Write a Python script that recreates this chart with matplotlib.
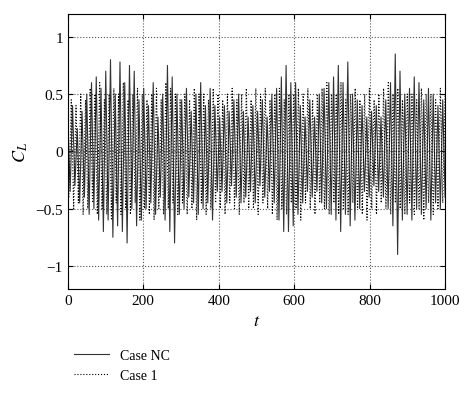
import numpy as np
import matplotlib
matplotlib.use("Agg")
import matplotlib.pyplot as plt

plt.rcParams['font.family'] = ['Liberation Serif', 'DejaVu Serif']
plt.rcParams['mathtext.fontset'] = 'stix'

nc_values = [0.3,-0.35,0.4,-0.3,0.2,-0.45,0.35,-0.4,0.5,-0.55,0.6,-0.5,0.65,-0.6,0.55,-0.7,
 0.7,-0.6,0.8,-0.75,0.5,-0.65,0.78,-0.7,0.6,-0.8,0.75,-0.5,0.7,-0.65,0.45,-0.6,
 0.55,-0.5,0.4,-0.45,0.6,-0.55,0.3,-0.4,0.5,-0.6,0.75,-0.7,0.65,-0.8,0.5,-0.55,
 0.45,-0.5,0.55,-0.4,0.35,-0.45,0.5,-0.55,0.6,-0.5,0.4,-0.45,0.55,-0.6,0.4,-0.35,
 0.3,-0.35,0.4,-0.45,0.35,-0.3,0.45,-0.4,0.5,-0.45,0.35,-0.4,0.3,-0.35,0.4,-0.45,
 0.35,-0.3,0.45,-0.4,0.3,-0.35,0.5,-0.45,0.55,-0.6,0.65,-0.7,0.75,-0.7,0.6,-0.65,
 0.6,-0.55,0.4,-0.45,0.3,-0.35,0.45,-0.4,0.3,-0.35,0.5,-0.45,0.55,-0.5,0.6,-0.55,
 0.65,-0.6,0.75,-0.7,0.6,-0.55,0.78,-0.65,0.5,-0.6,0.45,-0.5,0.4,-0.35,0.3,-0.4,
 0.35,-0.3,0.4,-0.35,0.3,-0.4,0.45,-0.5,0.6,-0.65,0.85,-0.9,0.7,-0.6,0.5,-0.55,
 0.55,-0.6,0.65,-0.5,0.6,-0.55,0.45,-0.5,0.55,-0.6,0.5,-0.45,0.4,-0.5,0.45,-0.4]

case1_values = [-0.4,0.45,-0.5,0.4,-0.45,0.5,-0.55,0.45,-0.5,0.55,-0.45,0.5,-0.55,0.6,-0.5,0.45,
 -0.55,0.5,-0.6,0.55,-0.45,0.5,-0.55,0.6,-0.5,0.45,-0.55,0.5,-0.45,0.55,-0.6,0.5,
 -0.5,0.45,-0.55,0.5,-0.6,0.55,-0.5,0.45,-0.55,0.6,-0.5,0.55,-0.45,0.5,-0.55,0.45,
 -0.45,0.5,-0.55,0.45,-0.5,0.55,-0.6,0.5,-0.45,0.5,-0.55,0.45,-0.5,0.55,-0.45,0.5,
 -0.5,0.45,-0.55,0.5,-0.45,0.55,-0.5,0.45,-0.55,0.5,-0.45,0.55,-0.5,0.45,-0.5,0.55,
 -0.55,0.5,-0.45,0.55,-0.5,0.45,-0.55,0.5,-0.6,0.55,-0.5,0.45,-0.55,0.5,-0.45,0.5,
 -0.5,0.55,-0.6,0.5,-0.45,0.55,-0.5,0.45,-0.55,0.5,-0.45,0.55,-0.5,0.6,-0.55,0.5,
 -0.45,0.5,-0.55,0.6,-0.5,0.45,-0.55,0.5,-0.45,0.55,-0.5,0.45,-0.55,0.5,-0.6,0.55,
 -0.5,0.45,-0.55,0.5,-0.45,0.55,-0.5,0.6,-0.55,0.5,-0.45,0.55,-0.5,0.45,-0.55,0.5,
 -0.45,0.5,-0.55,0.45,-0.5,0.55,-0.6,0.5,-0.45,0.5,-0.55,0.45,-0.5,0.55,-0.45,0.5]

t_nc = np.linspace(0, 1000, len(nc_values))
t_c1 = np.linspace(3, 1000, len(case1_values))

fig = plt.figure(figsize=(4.74, 4.02), dpi=100)
ax = fig.add_axes([0.143, 0.279, 0.796, 0.684])
l1, = ax.plot(t_nc, nc_values, color='#333333', lw=0.8, label='Case NC')
l2, = ax.plot(t_c1, case1_values, color='black', lw=0.8, ls=':', label='Case 1')
ax.set_xlim(0, 1000)
ax.set_ylim(-1.2, 1.2)
ax.set_xticks([0, 200, 400, 600, 800, 1000])
ax.set_yticks([-1, -0.5, 0, 0.5, 1])
ax.set_yticklabels(['\u22121', '\u22120.5', '0', '0.5', '1'])
ax.grid(True, ls=':', color='#555555', lw=0.8)
ax.tick_params(direction='in', top=True, right=True, labelsize=11)
ax.set_xlabel('$t$', fontsize=13)
ax.set_ylabel('$C_L$', fontsize=13)
fig.legend(handles=[l1, l2], loc='upper left', bbox_to_anchor=(0.13, 0.16),
           frameon=False, fontsize=10, handlelength=2.5, labelspacing=0.5)
fig.savefig('out.png', dpi=100)
